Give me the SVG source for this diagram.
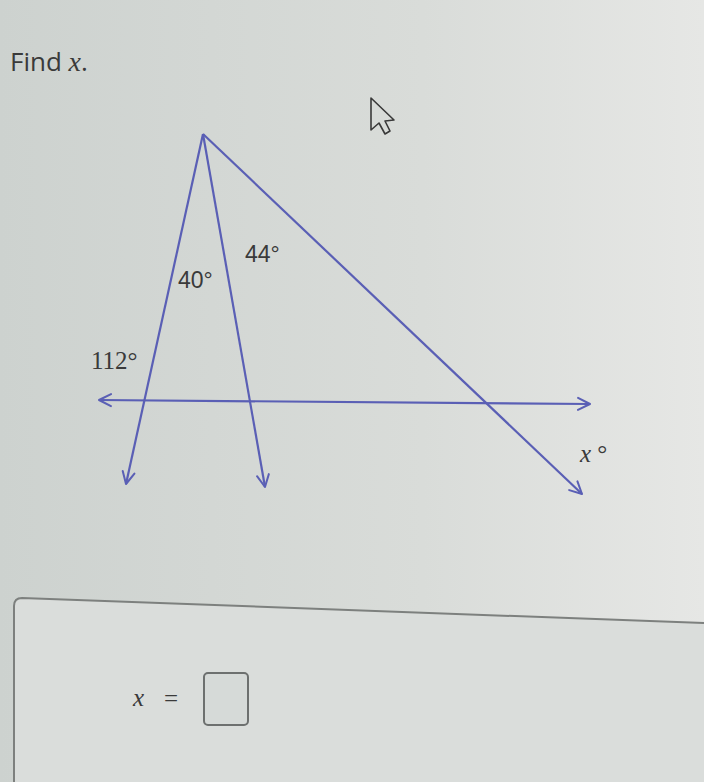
<svg xmlns="http://www.w3.org/2000/svg" width="704" height="782" viewBox="0 0 704 782">
<defs>
<linearGradient id="bg" x1="0" y1="0" x2="1" y2="0">
<stop offset="0" stop-color="#cdd2cf"/>
<stop offset="0.6" stop-color="#d9dcd9"/>
<stop offset="1" stop-color="#e6e7e5"/>
</linearGradient>
<marker id="arr" viewBox="0 0 16 16" refX="14" refY="8" markerWidth="16" markerHeight="16" markerUnits="userSpaceOnUse" orient="auto-start-reverse">
<path d="M2,2 L14,8 L2,14" fill="none" stroke="#5a5fb5" stroke-width="2" stroke-linecap="round" stroke-linejoin="round"/>
</marker>
</defs>
<style>
.ln{stroke:#5a5fb5;stroke-width:2.2;fill:none;marker-end:url(#arr)}
.lbl{font-family:"Liberation Sans",Arial,sans-serif;font-size:23px;fill:#3a3a3a}
.ser{font-family:"Liberation Serif","Times New Roman",serif;font-size:25px;fill:#3a3a3a}
.it{font-style:italic}
</style>
<rect x="0" y="0" width="704" height="782" fill="url(#bg)"/>
<g id="prompt">
<text x="10" y="71" font-family="'Open Sans',sans-serif" font-size="26" fill="#3a3a3a">Find <tspan font-family="'Liberation Serif',serif" font-style="italic" font-size="28">x</tspan>.</text>
</g>
<g id="cursor">
<path d="M371,98 L371,130 L379,123 L385,134 L390,131 L385,121 L394,120 Z" fill="none" stroke="#3a3a3a" stroke-width="1.6" stroke-linejoin="round"/>
</g>
<g id="connectors">
<line class="ln" x1="203" y1="134" x2="126" y2="484"/>
<line class="ln" x1="203" y1="134" x2="265" y2="487"/>
<line class="ln" x1="203" y1="134" x2="582" y2="494"/>
<line class="ln" x1="99" y1="400" x2="590" y2="404" style="marker-start:url(#arr)"/>
</g>
<g id="label-40"><text class="lbl" x="178" y="288">40°</text></g>
<g id="label-44"><text class="lbl" x="245" y="262">44°</text></g>
<g id="label-112"><text class="ser" x="91" y="369">112°</text></g>
<g id="label-x"><text class="ser" x="580" y="462"><tspan class="it">x</tspan> °</text></g>
<g id="answer-panel">
<path d="M14,782 L14,606 Q14,598 22,598 L704,623 L704,782 Z" fill="#dadddb"/>
<path d="M14,782 L14,606 Q14,598 22,598 L704,623" fill="none" stroke="#7d807e" stroke-width="2"/>
<text class="ser it" x="133" y="706" font-size="28">x</text>
<text class="ser" x="164" y="707" font-size="34">=</text>
<rect x="204" y="673" width="44" height="52" rx="4" fill="#d6dad8" stroke="#6d706f" stroke-width="2"/>
</g>
</svg>
